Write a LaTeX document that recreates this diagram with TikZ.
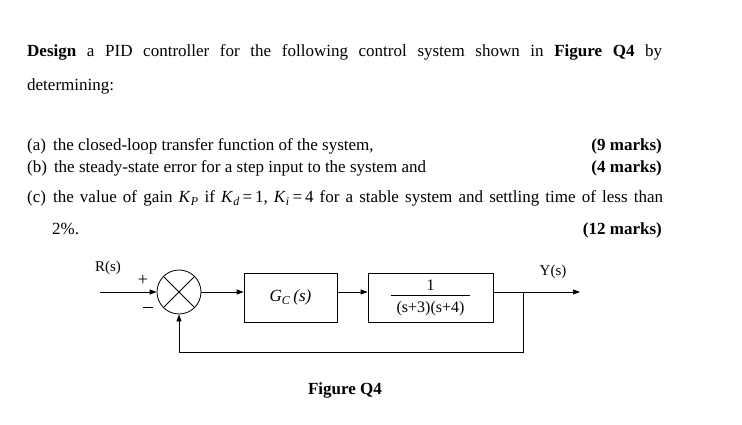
\documentclass[tikz,border=0pt]{standalone}
\usepackage{fontspec}
\setmainfont{Liberation Serif}
\usetikzlibrary{arrows.meta}
\newcommand{\Kv}[1]{\textit{K}\textsubscript{\textit{#1}}}
\begin{document}
\begin{tikzpicture}[x=1pt,y=-1pt,
  txt/.style={anchor=base west,inner sep=0pt,font=\fontsize{17}{20}\selectfont},
  mk/.style={anchor=base east,inner sep=0pt,font=\fontsize{17}{20}\selectfont\bfseries},
  blk/.style={draw,line width=0.8pt,minimum width=#1,minimum height=49pt,inner sep=0pt},
  ln/.style={line width=0.8pt},
  arr/.style={ln,-{Triangle[length=7pt,width=5pt]}},
  lbl/.style={inner sep=0pt,font=\fontsize{15}{17}\selectfont}]
\useasboundingbox (0,0) rectangle (742,425);
\node[txt] (l1) at (27,57) {\makebox[635pt][s]{\textbf{Design} a PID controller for the following control system shown in \textbf{Figure Q4} by}};
\node[txt] (l2) at (27,91) {determining:};
\node[txt] (a) at (27,151) {(a)\hspace{7pt}the closed-loop transfer function of the system,};
\node[mk] (am) at (662,151) {(9 marks)};
\node[txt] (b) at (27,173) {(b)\hspace{7pt}the steady-state error for a step input to the system and};
\node[mk] (bm) at (662,173) {(4 marks)};
\node[txt] (c) at (27,203) {(c)\hspace{7pt}\makebox[610pt][s]{the value of gain \mbox{\Kv{P}} if \mbox{\Kv{d}\,=\,1,} \mbox{\Kv{i}\,=\,4} for a stable system and settling time of less than}};
\node[txt] (c2) at (52,234) {2\%.};
\node[mk] (cm) at (662,234) {(12 marks)};
% diagram
\coordinate (in) at (100,292);
\node[draw,circle,ln,minimum size=44pt,inner sep=0pt] (sum) at (179,292) {};
\draw[ln] (sum.north west) -- (sum.south east) (sum.north east) -- (sum.south west);
\node[blk=93pt] (gc) at (290.5,297.5) {\fontsize{17}{19}\selectfont\textit{G}\textsubscript{\textit{C}}\,\textit{(s)}};
\node[blk=125pt] (gp) at (430.5,297.5) {\fontsize{16}{18}\selectfont\begin{tabular}{c}1\\[-1pt]\hline\rule{0pt}{17pt}(s+3)(s+4)\end{tabular}};
\coordinate (br) at (523,292);
\coordinate (out) at (580,292);
\draw[arr] (in) -- (sum.west);
\draw[arr] (sum.east) -- (gc.west |- sum.east);
\draw[arr] (gc.east |- sum.east) -- (gp.west |- sum.east);
\draw[arr] (gp.east |- sum.east) -- (out);
\draw[arr] (br) -- (523,352) -- (179,352) -- (sum.south);
\node[lbl] (r) at (108,268) {R(s)};
\node[lbl] (y) at (553,272) {Y(s)};
\node[lbl,font=\fontsize{18}{20}\selectfont] (p) at (143,280) {+};
\node[lbl,font=\fontsize{18}{20}\selectfont] (m) at (148,307) {\rule{10pt}{0.8pt}};
\node[inner sep=0pt,font=\fontsize{17}{20}\selectfont\bfseries] (fig) at (345,390) {Figure Q4};
\end{tikzpicture}
\end{document}
